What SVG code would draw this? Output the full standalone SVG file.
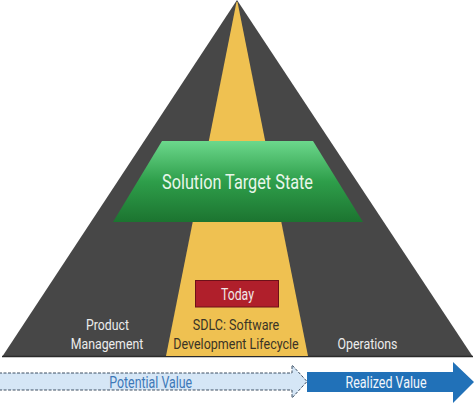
<svg xmlns="http://www.w3.org/2000/svg" width="474" height="403" viewBox="0 0 474 403">
<defs>
<linearGradient id="gGreen" x1="0" y1="0" x2="0" y2="1">
<stop offset="0" stop-color="#6cd88c"/>
<stop offset="0.5" stop-color="#2e9e4a"/>
<stop offset="1" stop-color="#1c7430"/>
</linearGradient>
<style>
text{font-family:Roboto,"Liberation Sans",sans-serif;text-anchor:middle}
.lbl{fill:#ececec;font-size:15.5px}
.dark{fill:#3a3426;font-size:15.5px}
</style>
</defs>
<rect x="0" y="0" width="474" height="403" fill="#ffffff"/>
<g id="pyramid">
<polygon points="237,0 473,357 2,357" fill="#474747"/>
<line x1="2" y1="356.5" x2="473" y2="356.5" stroke="#2a2a2a" stroke-width="1.5"/>
</g>
<g id="road">
<polygon points="236.5,2 237.5,2 308,356 166,356" fill="#efc151"/>
</g>
<g id="target-state">
<polygon points="162,141 313,141 363,222 113,222" fill="url(#gGreen)"/>
<text x="237.5" y="188.5" font-size="19.5" fill="#e8f6ea" textLength="151" lengthAdjust="spacingAndGlyphs">Solution Target State</text>
</g>
<g id="today">
<rect x="195.5" y="280.5" width="83" height="26.5" fill="#b01f2b" stroke="#6e1018" stroke-width="1"/>
<text x="237.5" y="300" font-size="17" fill="#f0e6e6" textLength="33" lengthAdjust="spacingAndGlyphs">Today</text>
</g>
<g id="product-management">
<text class="lbl" x="107.5" y="330" textLength="43" lengthAdjust="spacingAndGlyphs">Product</text>
<text class="lbl" x="107" y="349" textLength="72.5" lengthAdjust="spacingAndGlyphs">Management</text>
</g>
<g id="sdlc">
<text class="dark" x="236" y="330" textLength="86.5" lengthAdjust="spacingAndGlyphs">SDLC: Software</text>
<text class="dark" x="236" y="349" textLength="125.5" lengthAdjust="spacingAndGlyphs">Development Lifecycle</text>
</g>
<g id="operations">
<text class="lbl" x="367.5" y="349" textLength="60" lengthAdjust="spacingAndGlyphs">Operations</text>
</g>
<g id="connectors">
<g id="potential-value">
<polygon points="-1,373 292,373 292,365 307,381.5 292,398 292,390 -1,390" fill="#d5e6f6" stroke="#3d4f63" stroke-width="1" stroke-dasharray="3,1.5"/>
<text x="150.7" y="387.5" font-size="16.5" fill="#3d78b8" textLength="83" lengthAdjust="spacingAndGlyphs">Potential Value</text>
</g>
<g id="realized-value">
<polygon points="307,372 453,372 453,362 474,382 453,403 453,392 307,392" fill="#2171b8"/>
<text x="386" y="387.5" font-size="16.5" fill="#f2f6fb" textLength="81" lengthAdjust="spacingAndGlyphs">Realized Value</text>
</g>
</g>
</svg>
